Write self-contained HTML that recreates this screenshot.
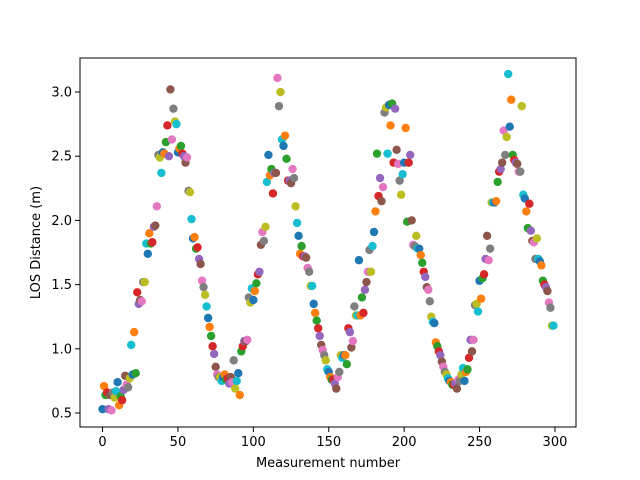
<!DOCTYPE html>
<html><head><meta charset="utf-8"><style>
html,body{margin:0;padding:0;background:#fff;}
svg{display:block;font-family:"DejaVu Sans","Liberation Sans",sans-serif;}
</style></head><body>
<svg id="chart" width="640" height="480" viewBox="0 0 640 480">
<rect x="0" y="0" width="640" height="480" fill="#fff"/>
<g id="marks"></g>
<g id="axes"></g>
<text x="328" y="467" font-size="13" text-anchor="middle">Measurement number</text>
<text transform="translate(40,242.5) rotate(-90)" font-size="13" text-anchor="middle">LOS Distance (m)</text>
</svg>
<script>
const distances = [
0.53,0.71,0.64,0.66,0.53,0.64,0.52,0.66,0.62,0.67,
0.74,0.56,0.63,0.60,0.68,0.79,0.72,0.70,0.77,1.03,
0.80,1.13,0.81,1.44,1.35,1.38,1.37,1.52,1.52,1.82,
1.74,1.90,1.82,1.83,1.95,1.96,2.11,2.51,2.49,2.37,
2.53,2.52,2.61,2.74,2.50,3.02,2.63,2.87,2.77,2.75,
2.53,2.56,2.58,2.52,2.50,2.45,2.49,2.23,2.22,2.01,
1.86,1.87,1.78,1.79,1.70,1.66,1.53,1.48,1.42,1.33,
1.24,1.17,1.10,1.02,0.96,0.86,0.80,0.78,0.78,0.75,
0.78,0.80,0.76,0.77,0.73,0.78,0.74,0.91,0.69,0.75,
0.81,0.64,0.98,1.02,1.06,1.06,1.07,1.40,1.36,1.47,
1.38,1.45,1.51,1.58,1.60,1.81,1.91,1.84,1.95,2.30,
2.51,2.35,2.40,2.21,2.37,2.37,3.11,2.89,3.00,2.63,
2.58,2.66,2.48,2.31,2.31,2.29,2.40,2.33,2.11,1.98,
1.88,1.74,1.80,1.72,1.72,1.71,1.63,1.60,1.49,1.49,
1.35,1.28,1.22,1.16,1.10,1.03,0.99,0.95,0.91,0.84,
0.82,0.78,0.76,0.76,0.73,0.69,0.78,0.82,0.95,0.93,
0.95,0.95,0.88,1.16,1.13,1.01,1.06,1.33,1.26,1.26,
1.69,1.26,1.40,1.28,1.46,1.52,1.60,1.77,1.60,1.80,
1.91,2.07,2.52,2.19,2.33,2.15,2.26,2.84,2.88,2.52,
2.90,2.74,2.91,2.45,2.87,2.55,2.44,2.31,2.20,2.36,
2.45,2.72,1.99,2.45,2.51,2.00,1.81,1.80,1.88,1.78,
1.78,1.73,1.67,1.60,1.56,1.48,1.46,1.37,1.25,1.21,
1.20,1.05,1.02,0.98,0.95,0.90,0.86,0.82,0.80,0.77,
0.75,0.74,0.72,0.72,0.73,0.69,0.76,0.75,0.80,0.85,
0.75,0.82,0.84,0.93,1.07,0.98,1.07,1.34,1.35,1.29,
1.53,1.39,1.55,1.58,1.70,1.88,1.69,1.78,2.14,2.14,
2.14,2.15,2.30,2.38,2.40,2.45,2.70,2.51,2.65,3.14,
2.73,2.94,2.51,2.47,2.45,2.44,2.38,2.38,2.89,2.20,
2.17,2.07,1.94,2.13,1.92,1.84,1.83,1.70,1.86,1.70,
1.68,1.65,1.53,1.50,1.48,1.45,1.36,1.32,1.18,1.18
];
const xTicks = [0,50,100,150,200,250,300];
const yTicks = [0.5,1.0,1.5,2.0,2.5,3.0];
const yTickLabels = ["0.5","1.0","1.5","2.0","2.5","3.0"];
const palette = ["#1f77b4","#ff7f0e","#2ca02c","#d62728","#9467bd","#8c564b","#e377c2","#7f7f7f","#bcbd22","#17becf"];

const L=80,T=58,R=576,B=427;
const xMin=-14.95,xMax=313.95,yMin=0.391,yMax=3.265;
function sx(v){return L+(v-xMin)/(xMax-xMin)*(R-L);}
function sy(v){return B-(v-yMin)/(yMax-yMin)*(B-T);}
const NS="http://www.w3.org/2000/svg";
const marks=document.getElementById('marks');
distances.forEach((d,i)=>{
  const c=document.createElementNS(NS,'circle');
  c.setAttribute('cx',sx(i));c.setAttribute('cy',sy(d));c.setAttribute('r',4.2);
  c.setAttribute('fill',palette[i%10]);
  
  
  marks.appendChild(c);
});
const axes=document.getElementById('axes');
const frame=document.createElementNS(NS,'rect');
frame.setAttribute('x',L);frame.setAttribute('y',T);frame.setAttribute('width',R-L);frame.setAttribute('height',B-T);
frame.setAttribute('fill','none');frame.setAttribute('stroke','#000');frame.setAttribute('stroke-width','1');


axes.appendChild(frame);
xTicks.forEach(v=>{
  const x=sx(v);
  const l=document.createElementNS(NS,'line');
  l.setAttribute('x1',x);l.setAttribute('x2',x);l.setAttribute('y1',B);l.setAttribute('y2',B+5);l.setAttribute('stroke','#000');
  
  
  axes.appendChild(l);
  const t=document.createElementNS(NS,'text');
  t.setAttribute('x',x);t.setAttribute('y',B+19);t.setAttribute('font-size','13');t.setAttribute('text-anchor','middle');
  t.textContent=String(v);
  
  
  axes.appendChild(t);
});
yTicks.forEach((v,i)=>{
  const y=sy(v);
  const l=document.createElementNS(NS,'line');
  l.setAttribute('x1',L-5);l.setAttribute('x2',L);l.setAttribute('y1',y);l.setAttribute('y2',y);l.setAttribute('stroke','#000');
  
  
  axes.appendChild(l);
  const t=document.createElementNS(NS,'text');
  t.setAttribute('x',L-8);t.setAttribute('y',y+4.5);t.setAttribute('font-size','13');t.setAttribute('text-anchor','end');
  t.textContent=yTickLabels[i];
  
  
  axes.appendChild(t);
});
</script>
</body></html>
